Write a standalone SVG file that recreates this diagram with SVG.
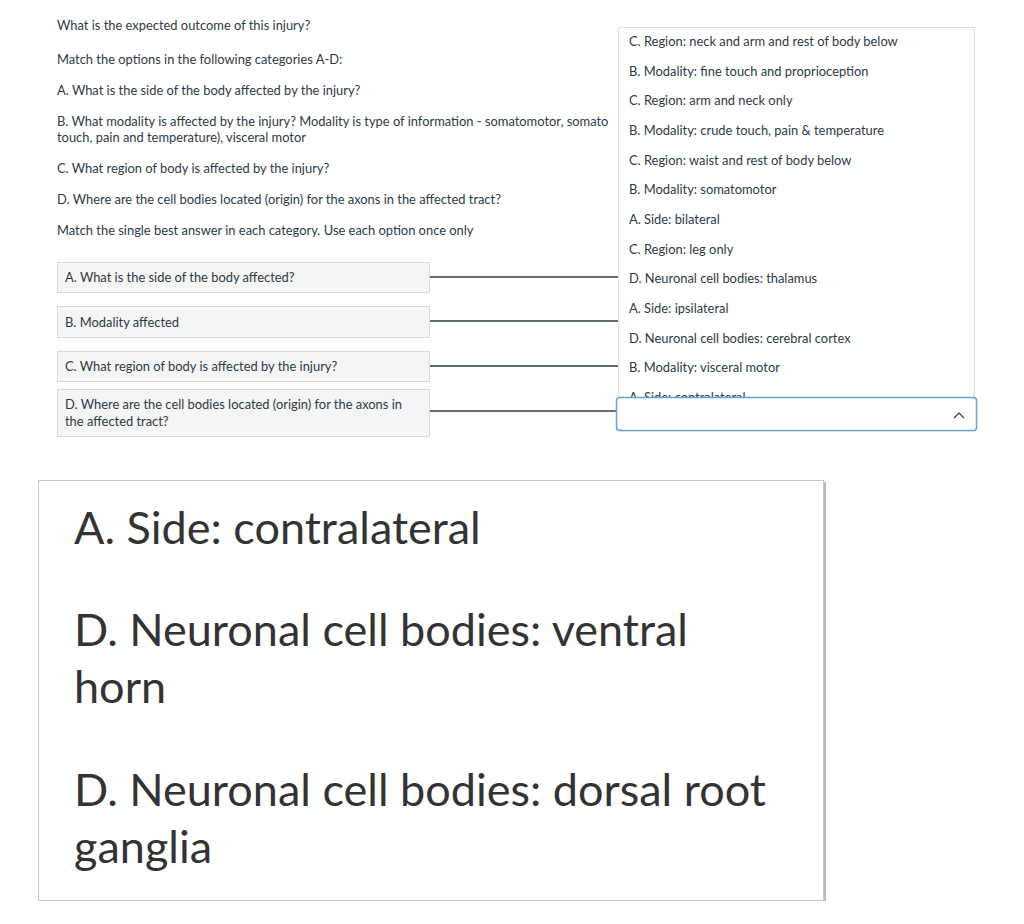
<svg xmlns="http://www.w3.org/2000/svg" width="1024" height="924" viewBox="0 0 1024 924">
<style>
text{font-family:Lato,"Open Sans",sans-serif;fill:#2d3b45}
.q{font-size:12.9px}
.o{font-size:12.9px}
.b{font-size:45px;fill:#333}
.box{fill:#f5f5f5;stroke:#d8d8d8}
.ln{stroke:#2d3b45;stroke-width:1.5}
</style>
<defs><clipPath id="dd"><rect x="618" y="27" width="357" height="371"/></clipPath></defs>
<rect width="1024" height="924" fill="#fff"/>
<g id="questions" class="q">
<text x="57" y="30">What is the expected outcome of this injury?</text>
<text x="57" y="64">Match the options in the following categories A-D:</text>
<text x="57" y="95">A. What is the side of the body affected by the injury?</text>
<text x="57" y="126">B. What modality is affected by the injury?  Modality is type of information - somatomotor, somato</text>
<text x="57" y="142">touch, pain and temperature), visceral motor</text>
<text x="57" y="173">C. What region of body is affected by the injury?</text>
<text x="57" y="204">D. Where are the cell bodies located (origin) for the axons in the affected tract?</text>
<text x="57" y="235">Match the single best answer in each category. Use each option once only</text>
</g>
<g id="connectors">
<line class="ln" x1="430" y1="277" x2="618" y2="277"/>
<line class="ln" x1="430" y1="321" x2="618" y2="321"/>
<line class="ln" x1="430" y1="366" x2="618" y2="366"/>
<line class="ln" x1="430" y1="411" x2="618" y2="411"/>
</g>
<g id="nodeA"><rect class="box" x="57.500" y="262.500" width="372" height="30"/><text class="q" x="65" y="282">A. What is the side of the body affected?</text></g>
<g id="nodeB"><rect class="box" x="57.500" y="306.500" width="372" height="31"/><text class="q" x="65" y="327">B. Modality affected</text></g>
<g id="nodeC"><rect class="box" x="57.500" y="351.500" width="372" height="30"/><text class="q" x="65" y="371">C. What region of body is affected by the injury?</text></g>
<g id="nodeD"><rect class="box" x="57.500" y="389.500" width="372" height="47"/><text class="q" x="65" y="409">D. Where are the cell bodies located (origin) for the axons in</text><text class="q" x="65" y="426">the affected tract?</text></g>
<g id="dropdown">
<rect x="618.500" y="27.500" width="356" height="372" fill="#fff" stroke="#ddd"/>
<g clip-path="url(#dd)" class="o">
<text x="629" y="46">C. Region: neck and arm and rest of body below</text>
<text x="629" y="76">B. Modality: fine touch and proprioception</text>
<text x="629" y="105">C. Region: arm and neck only</text>
<text x="629" y="135">B. Modality: crude touch, pain &amp; temperature</text>
<text x="629" y="165">C. Region: waist and rest of body below</text>
<text x="629" y="194">B. Modality: somatomotor</text>
<text x="629" y="224">A. Side: bilateral</text>
<text x="629" y="254">C. Region: leg only</text>
<text x="629" y="283">D. Neuronal cell bodies: thalamus</text>
<text x="629" y="313">A. Side: ipsilateral</text>
<text x="629" y="343">D. Neuronal cell bodies: cerebral cortex</text>
<text x="629" y="372">B. Modality: visceral motor</text>
<text x="629" y="402">A. Side: contralateral</text>
</g>
<rect x="616.500" y="397.500" width="360" height="33" rx="3" fill="#fff" stroke="#6a9fd8" stroke-width="1.5"/>
<polyline points="954,418 959,413 964,418" fill="none" stroke="#2d3b45" stroke-width="1.2"/>
</g>
<g id="zoomPanel">
<rect x="38.500" y="480.500" width="785" height="420" fill="#fff" stroke="#c8c8c8"/>
<line x1="825" y1="482" x2="825" y2="901" stroke="#bbb" stroke-width="2"/>
<text class="b" x="74" y="544">A. Side: contralateral</text>
<text class="b" x="74" y="646">D. Neuronal cell bodies: ventral</text>
<text class="b" x="74" y="703">horn</text>
<text class="b" x="74" y="806">D. Neuronal cell bodies: dorsal root</text>
<text class="b" x="74" y="863">ganglia</text>
</g>
</svg>
